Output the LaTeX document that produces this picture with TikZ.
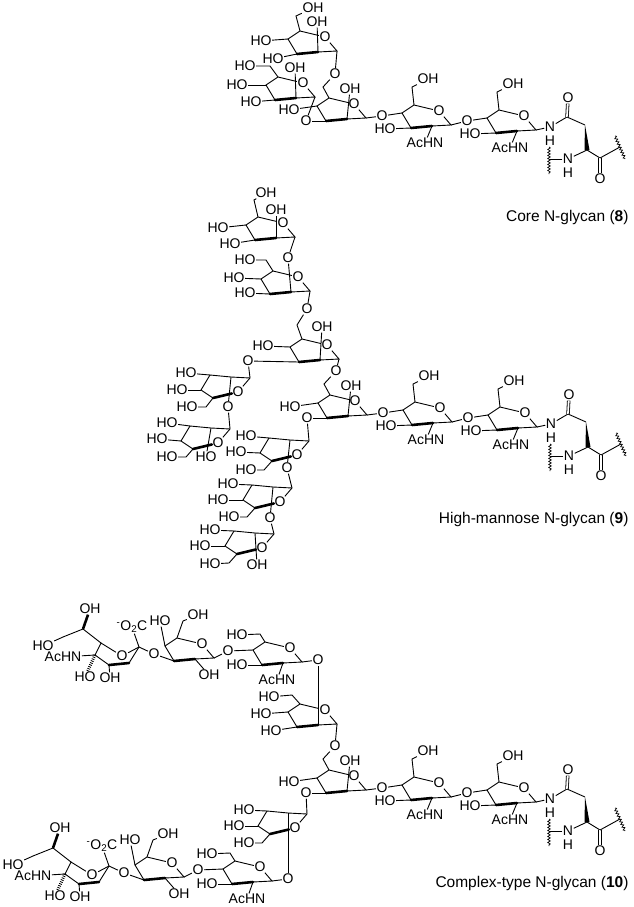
\documentclass[tikz,border=0pt]{standalone}
\usepackage{fontspec}
\setmainfont{Liberation Sans}
\usetikzlibrary{decorations.pathmorphing}
\tikzset{
 a/.style={inner sep=0.5pt, font=\fontsize{14}{14}\selectfont},
 bond/.style={line width=0.9pt},
 bd/.style={line width=2.6pt},
 hb/.style={line width=3pt, dash pattern=on 0.8pt off 1.3pt},
 dbl/.style={line width=0.8pt, double, double distance=1.8pt},
 wavy/.style={line width=0.7pt, decorate, decoration={snake, amplitude=1.3pt, segment length=3pt}},
 capt/.style={font=\fontsize{15.5}{17}\selectfont, anchor=east}
}
\newcommand\RingN[3]{%
 \path (#2,#3) coordinate (#1-4) +(12,-8) coordinate (#1-5) +(37,-2) node[a] (#1-O) {O}
   +(49,12) coordinate (#1-1) +(30,13) coordinate (#1-2) +(9,15) coordinate (#1-3);
 \draw[bond] (#1-3)--(#1-4)--(#1-5)--(#1-O)--(#1-1)--(#1-2);
 \draw[bd, line cap=round] (#1-2)--(#1-3);}
\newcommand\RingF[3]{%
 \path (#2,#3) coordinate (#1-4) +(12,8) coordinate (#1-5) +(37,2) node[a] (#1-O) {O}
   +(49,-12) coordinate (#1-1) +(30,-13) coordinate (#1-2) +(9,-15) coordinate (#1-3);
 \draw[bond] (#1-1)--(#1-2)--(#1-3)--(#1-4)--(#1-5);
 \draw[bd, line cap=round] (#1-5)--(#1-O);
 \draw[bond] (#1-O)--(#1-1);}
\newcommand\Lb[4]{\node[a] (#1) at (#2,#3) {#4};}
\newcommand\GlcSubs[1]{%
 \Lb{#1ho}{-17}{16}{HO}\draw[bond] (#1-3)--(#1ho);
 \Lb{#1ac}{23}{30}{AcHN}\draw[bond] (#1-2)--(#1ac);
 \coordinate (#1v) at (10,-26);\Lb{#1oh}{26}{-34}{OH}\draw[bond] (#1-5)--(#1v)--(#1oh);}
\newcommand\CorePart{%
 \RingN{g1}{0}{0}
 \GlcSubs{g1}
 \Lb{lo2}{65}{8}{O}
 \begin{scope}[shift={(85,5)}]\RingN{g2}{0}{0}\GlcSubs{g2}\end{scope}
 \draw[bond] (g1-1)--(lo2)--(g2-4);
 \Lb{n1}{148}{14}{N}\Lb{h1}{148}{28}{H}
 \draw[bond] (g2-1)--(n1);
 \coordinate (cc) at (165,4); \Lb{o1}{166}{-15}{O}
 \draw[bond] (n1)--(cc); \draw[dbl] (cc)--(o1);
 \coordinate (cb) at (183,12); \draw[bond] (cc)--(cb);
 \coordinate (ca) at (185,37); \fill (183,12)--(187.5,37)--(182.5,37)--cycle;
 \Lb{n2}{166}{46}{N}\Lb{h2}{166}{60}{H}
 \draw[bond] (ca)--(n2);
 \coordinate (w1) at (147,46); \draw[bond] (n2)--(w1);
 \draw[wavy] (147,34)--(147,61);
 \coordinate (c2) at (198,45); \Lb{o2}{198}{66}{O}
 \draw[bond] (ca)--(c2); \draw[dbl] (c2)--(o2);
 \coordinate (c3) at (218,34); \draw[bond] (c2)--(c3);
 \draw[wavy] (213,23)--(223,46);
 \RingN{bm}{-85}{-7}
 \Lb{bmo}{-20}{3}{O}\draw[bond] (bm-1)--(bmo)--(g1-4);
 \Lb{bmho}{-113}{-3}{HO}\draw[bond] (bm-4)--(bmho);
 \Lb{bmoh}{-52}{-24}{OH}\draw[bond] (bm-2)--(bmoh);
 \coordinate (bmv) at (-79,-26);\Lb{O6}{-67}{-39}{O}\draw[bond] (bm-5)--(bmv)--(O6);
 \Lb{O3}{-96}{8}{O}\draw[bond] (bm-3)--(O3);}
\newcommand\Arm{%
 \RingN{ag}{0}{0}
 \coordinate (agv) at (7,-16);\Lb{aga}{-16}{-15}{HO}\draw[bond] (ag-5)--(agv)--(aga);
 \Lb{agb}{-16}{15}{HO}\draw[bond] (ag-3)--(agb);
 \Lb{ago}{-25}{1}{O}\draw[bond] (ag-4)--(ago);
 \Lb{agc}{24}{30}{AcHN}\draw[bond] (ag-2)--(agc);
 \Lb{aO}{65}{10}{O}\draw[bond] (ag-1)--(aO);
 \RingN{gl}{-88}{-4}
 \draw[bond] (gl-1)--(ago);
 \Lb{gla}{-93}{-29}{HO}\draw[bond] (gl-4)--(gla);
 \coordinate (glv) at (-70,-29);\Lb{glb}{-55}{-35}{OH}\draw[bond] (gl-5)--(glv)--(glb);
 \Lb{glc}{-44}{25}{OH}\draw[bond] (gl-2)--(glc);
 \Lb{nO}{-99}{4}{O}\draw[bond] (gl-3)--(nO);
 \coordinate (s2) at (-114,-3); \Lb{sr}{-131}{6}{O}
 \coordinate (s6) at (-152,-7); \coordinate (s5) at (-158,5);
 \coordinate (s4) at (-144,15); \coordinate (s3) at (-124,13);
 \draw[bond] (s2)--(sr)--(s6)--(s5)--(s4);
 \draw[bd, line cap=round] (s4)--(s3);
 \draw[bond] (s3)--(s2)--(nO);
 \node[a] (co2) at (-121,-23) {\textsuperscript{-}O\textsubscript{2}C};
 \draw[bond] (s2)--(co2);
 \Lb{s4o}{-143}{28}{OH}\draw[bond] (s4)--(s4o);
 \Lb{s5o}{-168}{27}{HO}\draw[hb] (s5)--(s5o);
 \Lb{s5n}{-190}{7}{AcHN}\draw[bond] (s5)--(s5n);
 \coordinate (s7) at (-170,-21); \draw[bond] (s6)--(s7);
 \Lb{s7o}{-163}{-41}{OH}\draw[bd] (s7)--(s7o);
 \coordinate (s8) at (-190,-13); \draw[bond] (s7)--(s8);
 \Lb{s8o}{-210}{-4}{HO}\draw[bond] (s8)--(s8o);}
\begin{document}
\begin{tikzpicture}[x=1pt,y=-1pt]
\useasboundingbox (0,0) rectangle (634,907);
\fill[white] (0,0) rectangle (634,907);
% ---------------- Structure 8
\begin{scope}[shift={(402,113)}]\CorePart\end{scope}
\RingN{m6}{288}{39}
\draw[bond] (m6-1)--(O6);
\coordinate (m6v) at (296,16);\Lb{m6a}{313}{8}{OH}\draw[bond] (m6-5)--(m6v)--(m6a);
\Lb{m6b}{317}{22}{OH}\draw[bond] (m6-2)--(m6b);
\Lb{m6c}{261}{41}{HO}\draw[bond] (m6-4)--(m6c);
\Lb{m6d}{273}{59}{HO}\draw[bond] (m6-3)--(m6d);
\RingN{m3}{266}{85}
\draw[bond] (m3-1)--(O3);
\coordinate (m3v) at (270,66);\Lb{m3a}{245}{66}{HO}\draw[bond] (m3-5)--(m3v)--(m3a);
\Lb{m3b}{295}{68}{OH}\draw[bond] (m3-2)--(m3b);
\Lb{m3c}{237}{85}{HO}\draw[bond] (m3-4)--(m3c);
\Lb{m3d}{251}{102}{HO}\draw[bond] (m3-3)--(m3d);
\node[capt] (t8) at (632,217) {Core N-glycan (\textbf{8})};
% ---------------- Structure 9
\begin{scope}[shift={(403,410)}]\CorePart\end{scope}
\RingN{rc}{290}{347}
\draw[bond] (rc-1)--(O6);
\coordinate (rcv) at (297,325);\Lb{oB}{307}{309}{O}\draw[bond] (rc-5)--(rcv)--(oB);
\Lb{rcoh}{322}{327}{OH}\draw[bond] (rc-2)--(rcoh);
\Lb{rcho}{263}{346}{HO}\draw[bond] (rc-4)--(rcho);
\Lb{oE}{248}{361}{O}\draw[bond] (rc-3)--(oE);
\RingN{rb}{261}{279}
\draw[bond] (rb-1)--(oB);
\Lb{oA}{288}{258}{O}\draw[bond] (rb-2)--(oA);
\coordinate (rbv) at (266,260);\Lb{rba}{245}{260}{HO}\draw[bond] (rb-5)--(rbv)--(rba);
\Lb{rbc}{234}{278}{HO}\draw[bond] (rb-4)--(rbc);
\Lb{rbd}{245}{293}{HO}\draw[bond] (rb-3)--(rbd);
\RingN{ra}{246}{225}
\draw[bond] (ra-1)--(oA);
\coordinate (rav) at (254,200);\Lb{raa}{266}{193}{OH}\draw[bond] (ra-5)--(rav)--(raa);
\Lb{rab}{276}{210}{OH}\draw[bond] (ra-2)--(rab);
\Lb{rac}{218}{228}{HO}\draw[bond] (ra-4)--(rac);
\Lb{rad}{230}{244}{HO}\draw[bond] (ra-3)--(rad);
\RingF{re}{201}{390}
\draw[bond] (re-1)--(oE);
\Lb{oF}{228}{407}{O}\draw[bond] (re-2)--(oF);
\Lb{rea}{186}{373}{HO}\draw[bond] (re-3)--(rea);
\Lb{reb}{177}{390}{HO}\draw[bond] (re-4)--(reb);
\coordinate (rev) at (206,407);\Lb{rec}{187}{407}{HO}\draw[bond] (re-5)--(rev)--(rec);
\RingF{rf}{181}{441}
\draw[bond] (rf-1)--(oF);
\Lb{rfa}{206}{457}{HO}\draw[bond] (rf-2)--(rfa);
\Lb{rfb}{167}{423}{HO}\draw[bond] (rf-3)--(rfb);
\Lb{rfc}{157}{439}{HO}\draw[bond] (rf-4)--(rfc);
\coordinate (rfv) at (186,457);\Lb{rfd}{167}{457}{HO}\draw[bond] (rf-5)--(rfv)--(rfd);
\RingF{rg}{260}{453}
\draw[bond] (rg-1)--(O3);
\Lb{oH}{287}{468}{O}\draw[bond] (rg-2)--(oH);
\Lb{rga}{246}{436}{HO}\draw[bond] (rg-3)--(rga);
\Lb{rgb}{236}{452}{HO}\draw[bond] (rg-4)--(rgb);
\coordinate (rgv) at (264,470);\Lb{rgc}{246}{470}{HO}\draw[bond] (rg-5)--(rgv)--(rgc);
\RingF{rh}{243}{500}
\draw[bond] (rh-1)--(oH);
\Lb{oI}{270}{518}{O}\draw[bond] (rh-2)--(oI);
\Lb{rha}{228}{484}{HO}\draw[bond] (rh-3)--(rha);
\Lb{rhb}{218}{500}{HO}\draw[bond] (rh-4)--(rhb);
\coordinate (rhv) at (247,517);\Lb{rhc}{229}{517}{HO}\draw[bond] (rh-5)--(rhv)--(rhc);
\RingF{ri}{225}{546}
\draw[bond] (ri-1)--(oI);
\Lb{ria}{257}{565}{OH}\draw[bond] (ri-2)--(ria);
\Lb{rib}{210}{530}{HO}\draw[bond] (ri-3)--(rib);
\Lb{ric}{200}{546}{HO}\draw[bond] (ri-4)--(ric);
\coordinate (riv) at (229,563);\Lb{rid}{210}{564}{HO}\draw[bond] (ri-5)--(riv)--(rid);
\node[capt] (t9) at (632,519) {High-mannose N-glycan (\textbf{9})};
% ---------------- Structure 10
\begin{scope}[shift={(402,785)}]\CorePart\end{scope}
\RingN{n6}{288}{712}
\draw[bond] (n6-1)--(O6);
\coordinate (n6v) at (292,695);\Lb{n6a}{269}{697}{HO}\draw[bond] (n6-5)--(n6v)--(n6a);
\Lb{n6b}{261}{714}{HO}\draw[bond] (n6-4)--(n6b);
\Lb{n6c}{271}{731}{HO}\draw[bond] (n6-3)--(n6c);
\RingF{n3}{258}{826}
\draw[bond] (n3-1)--(O3);
\Lb{n3a}{244}{810}{HO}\draw[bond] (n3-3)--(n3a);
\Lb{n3b}{234}{826}{HO}\draw[bond] (n3-4)--(n3b);
\coordinate (n3v) at (262,843);\Lb{n3c}{244}{843}{HO}\draw[bond] (n3-5)--(n3v)--(n3c);
\begin{scope}[shift={(253,650)}]\Arm\end{scope}
\draw[bond] (n6-2)--(aO);
\begin{scope}[shift={(223,869)}]\Arm\end{scope}
\draw[bond] (n3-2)--(aO);
\node[capt] (t10) at (632,883) {Complex-type N-glycan (\textbf{10})};
\end{tikzpicture}
\end{document}
